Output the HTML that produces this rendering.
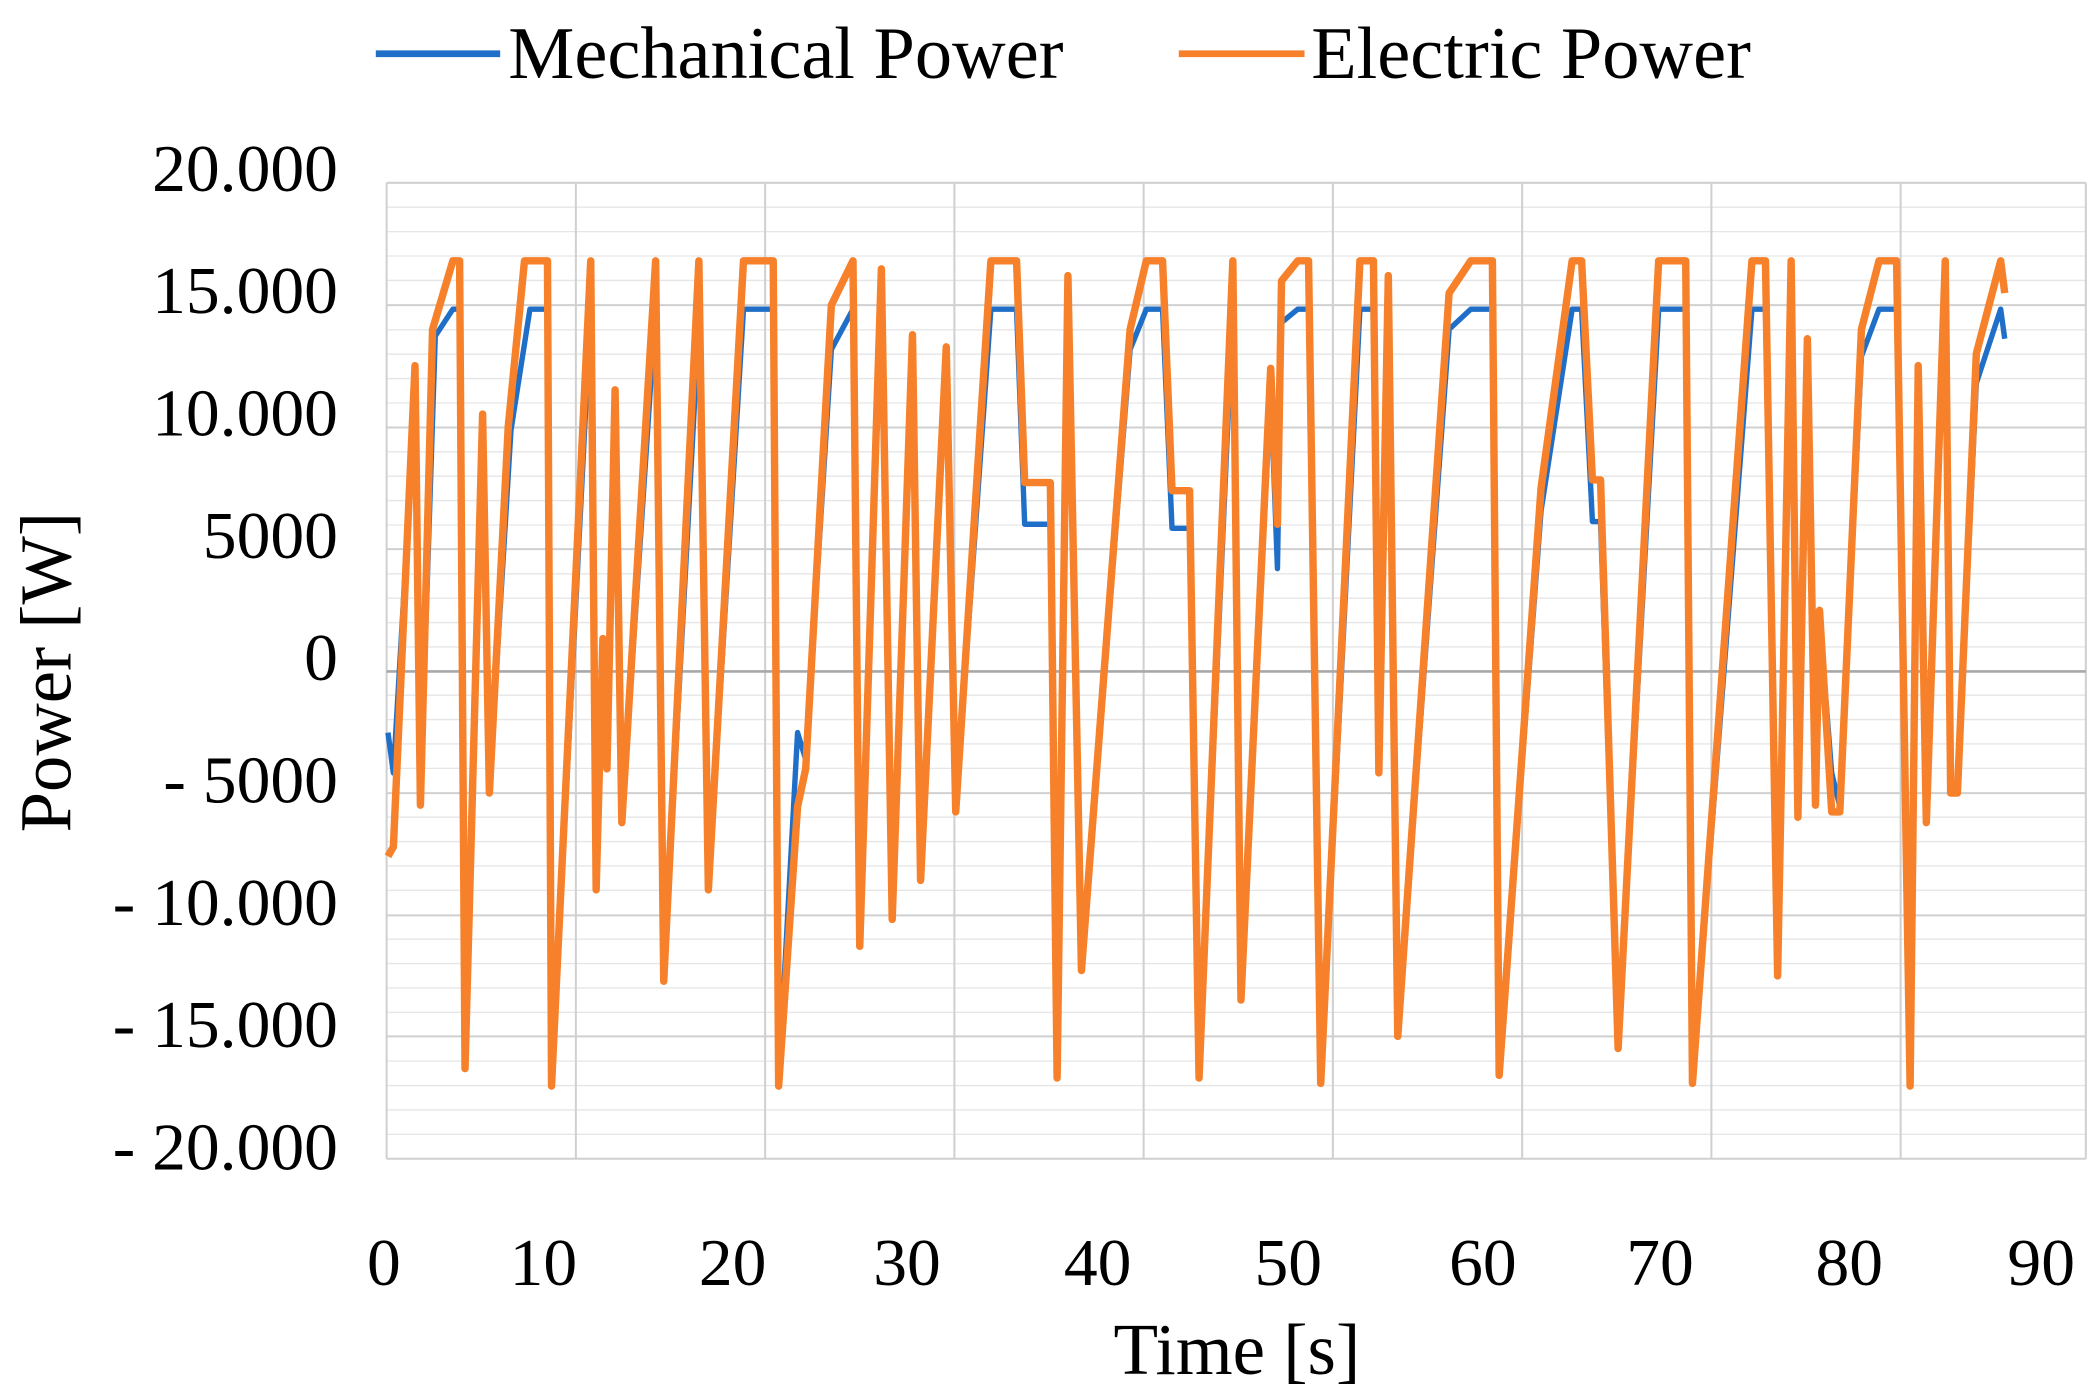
<!DOCTYPE html>
<html><head><meta charset="utf-8"><style>
html,body{margin:0;padding:0;background:#fff;}
svg{display:block;}
</style></head><body>
<svg width="2098" height="1398" viewBox="0 0 1552 1040" preserveAspectRatio="none" xmlns="http://www.w3.org/2000/svg" font-family="'Liberation Serif', serif">
<rect width="1552" height="1040" fill="#fff"/>
<g stroke="#e6e6e6" stroke-width="1">
<path d="M286 154.15H1543M286 172.3H1543M286 190.45H1543M286 208.6H1543M286 245.35H1543M286 263.5H1543M286 281.65H1543M286 299.8H1543M286 336.1H1543M286 354.25H1543M286 372.4H1543M286 390.55H1543M286 426.85H1543M286 445H1543M286 463.15H1543M286 481.3H1543M286 517.15H1543M286 535.3H1543M286 553.45H1543M286 571.6H1543M286 607.9H1543M286 626.05H1543M286 644.2H1543M286 662.35H1543M286 698.65H1543M286 716.8H1543M286 734.95H1543M286 753.1H1543M286 789.4H1543M286 807.55H1543M286 825.7H1543M286 843.85H1543"/>
</g>
<g stroke="#d0d0d0" stroke-width="1.5">
<path d="M286 136H1543M286 227H1543M286 318H1543M286 408.5H1543M286 590H1543M286 681H1543M286 771H1543M286 862H1543"/>
<path d="M286 136V862M426 136V862M566 136V862M706 136V862M846 136V862M986 136V862M1126 136V862M1266 136V862M1406 136V862M1543 136V862"/>
</g>
<path d="M286 499.5H1543" stroke="#a8a8a8" stroke-width="2"/>
<polyline fill="none" stroke="#1f6fc8" stroke-width="4" stroke-linejoin="round" points="287,545 291,575 307,300 311,590 322,250 335,230 340,230 344,790 357,320 362,585 378,320 392,230 405,230 408,805 437,230 441,660 446,480 449,570 455,300 460,610 485,230 491,725 517,240 524,660 550,230 572,230 576,805 590,545 596,565 615,260 631,230 636,700 652,220 660,680 675,260 681,650 700,265 707,600 733,230 752,230 758,390 777,390 782,800 790,220 800,715 836,260 848,230 860,230 867,393 880,393 887,800 912,230 918,740 940,290 945,423 948,240 960,230 968,230 977,805 1006,230 1016,230 1020,570 1027,225 1034,768 1072,245 1088,230 1104,230 1109,795 1140,380 1163,230 1170,230 1178,388 1184,388 1197,775 1227,230 1247,230 1252,803 1296,230 1306,230 1315,722 1325,215 1330,605 1337,260 1343,595 1346,460 1355,575 1361,600 1377,265 1390,230 1403,230 1413,805 1419,285 1425,610 1439,215 1443,588 1448,588 1462,285 1480,230 1483,252"/>
<polyline fill="none" stroke="#f6812a" stroke-width="5.5" stroke-linejoin="round" points="287,637 291,630 307,272 311,599 320,245 335,194 340,194 344,795 357,308 362,590 376,317 388,194 405,194 408,808 437,194 441,662 446,475 449,572 455,290 460,612 485,194 491,730 517,194 524,662 550,194 572,194 576,808 590,600 596,572 615,227 631,194 636,704 652,200 660,684 675,249 681,655 700,258 707,604 733,194 752,194 758,359 777,359 782,802 790,205 800,722 836,245 848,194 860,194 867,365 880,365 887,802 912,194 918,744 940,274 945,390 948,209 960,194 968,194 977,806 1006,194 1016,194 1020,575 1027,205 1034,771 1072,218 1088,194 1104,194 1109,800 1140,363 1163,194 1170,194 1178,357 1184,357 1197,780 1227,194 1247,194 1252,806 1296,194 1306,194 1315,726 1325,194 1330,608 1337,252 1343,599 1346,454 1355,604 1361,604 1377,245 1390,194 1403,194 1413,808 1419,272 1425,612 1439,194 1443,590 1448,590 1462,263 1480,194 1483,218"/>
<g font-size="50" fill="#000" text-anchor="end">
<text x="250" y="142">20.000</text>
<text x="250" y="233">15.000</text>
<text x="250" y="324">10.000</text>
<text x="250" y="415">5000</text>
<text x="250" y="506">0</text>
<text x="250" y="597">- 5000</text>
<text x="250" y="688">- 10.000</text>
<text x="250" y="779">- 15.000</text>
<text x="250" y="870">- 20.000</text>
</g>
<g font-size="50" fill="#000" text-anchor="middle">
<text x="284" y="956">0</text>
<text x="402" y="956">10</text>
<text x="542" y="956">20</text>
<text x="671" y="956">30</text>
<text x="812" y="956">40</text>
<text x="953" y="956">50</text>
<text x="1097" y="956">60</text>
<text x="1228" y="956">70</text>
<text x="1368" y="956">80</text>
<text x="1510" y="956">90</text>
<text x="915" y="1022" font-size="54">Time [s]</text>
<text transform="translate(52,500) rotate(-90)" font-size="54">Power [W]</text>
</g>
<line x1="278" y1="40" x2="370" y2="40" stroke="#1f6fc8" stroke-width="5"/>
<text x="376" y="58" font-size="55">Mechanical Power</text>
<line x1="872" y1="40" x2="965" y2="40" stroke="#f6812a" stroke-width="5"/>
<text x="970" y="58" font-size="55">Electric Power</text>
</svg>
</body></html>
